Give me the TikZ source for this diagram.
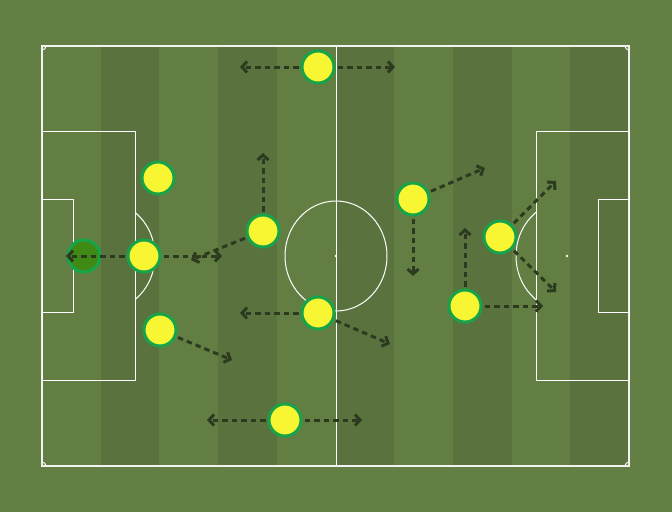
\documentclass[tikz,border=0pt]{standalone}
\usetikzlibrary{arrows.meta,shadows}
\definecolor{outside}{HTML}{647F43}
\definecolor{lightstripe}{HTML}{637E42}
\definecolor{darkstripe}{HTML}{5A733E}
\definecolor{ringgreen}{HTML}{17A34A}
\definecolor{shirt}{HTML}{F8F532}
\definecolor{keeper}{HTML}{3E8A14}
\definecolor{arrowc}{HTML}{2C3B20}
\tikzset{
  pitchline/.style={draw=white, line width=1pt},
  player/.style={circle, draw=ringgreen, line width=3pt, fill=shirt, minimum size=32pt, inner sep=0pt,
    drop shadow={shadow xshift=0.6pt, shadow yshift=-1.2pt, opacity=0.25}},
  gk/.style={player, fill=keeper},
  run/.style={draw=arrowc, line width=3pt, dash pattern=on 5.5pt off 4pt, shorten <=2pt,
    -{Straight Barb[length=5pt,width=11pt]}},
}
\begin{document}
\begin{tikzpicture}[x=1pt,y=-1pt]
\useasboundingbox (0,0) rectangle (672,512);
\fill[outside] (0,0) rectangle (672,512);
% stripes
\foreach \i in {0,...,9}{
  \pgfmathsetmacro{\xa}{42+58.7*\i}
  \pgfmathsetmacro{\xb}{42+58.7*(\i+1)}
  \pgfmathtruncatemacro{\odd}{mod(\i,2)}
  \ifnum\odd=1
    \fill[darkstripe] (\xa,46) rectangle (\xb,466);
  \else
    \fill[lightstripe] (\xa,46) rectangle (\xb,466);
  \fi
}
% lines
\draw[pitchline, draw=white!90!gray, line width=1.3pt] (42,46) rectangle (629,466);
\draw[pitchline] (336,46) -- (336,466);
\draw[pitchline] (336,256) ellipse [x radius=51pt, y radius=55pt];
\fill[white] (336,256) circle (1.3pt);
\draw[pitchline] (42,131) rectangle (135,380);
\draw[pitchline] (42,199) rectangle (73,312);
\draw[pitchline] (629,131) rectangle (536,380);
\draw[pitchline] (629,199) rectangle (598,312);
\fill[white] (104,256) circle (1.3pt);
\fill[white] (567,256) circle (1.3pt);
\begin{scope}
  \clip (135,46) rectangle (300,466);
  \draw[pitchline] (104,256) ellipse [x radius=51pt, y radius=55pt];
\end{scope}
\begin{scope}
  \clip (380,46) rectangle (536,466);
  \draw[pitchline] (567,256) ellipse [x radius=51pt, y radius=55pt];
\end{scope}
\begin{scope}
  \clip (42,46) rectangle (629,466);
  \foreach \c in {(42,46),(629,46),(42,466),(629,466)}
    \draw[pitchline] \c circle (4pt);
\end{scope}
% players
\node[gk] (gk) at (84,256) {};
\node[player] (p2) at (144,256) {};
\node[player] (p3) at (158,178) {};
\node[player] (p4) at (160,330) {};
\node[player] (p5) at (263,231) {};
\node[player] (p6) at (318,67) {};
\node[player] (p7) at (318,313) {};
\node[player] (p8) at (285,420) {};
\node[player] (p9) at (413,199) {};
\node[player] (p10) at (500,237) {};
\node[player] (p11) at (465,306) {};
% run targets
\coordinate (a6l) at (240,67);
\coordinate (a6r) at (395,67);
\coordinate (a8l) at (207,420);
\coordinate (a8r) at (362,420);
\coordinate (a2l) at (66,256);
\coordinate (a2r) at (222,256);
\coordinate (a5u) at (263,153);
\coordinate (a5d) at (191,260);
\coordinate (a4) at (232,360);
\coordinate (a7l) at (240,313);
\coordinate (a7r) at (390,344);
\coordinate (a9u) at (485,168);
\coordinate (a9d) at (413,276);
\coordinate (a10u) at (556,181);
\coordinate (a10d) at (556,292);
\coordinate (a11u) at (465,228);
\coordinate (a11r) at (543,306);
% runs
\draw[run] (p6) -- (a6l);
\draw[run] (p6) -- (a6r);
\draw[run] (p8) -- (a8l);
\draw[run] (p8) -- (a8r);
\draw[run] (p2) -- (a2l);
\draw[run] (p2) -- (a2r);
\draw[run] (p5) -- (a5u);
\draw[run] (p5) -- (a5d);
\draw[run] (p4) -- (a4);
\draw[run] (p7) -- (a7l);
\draw[run] (p7) -- (a7r);
\draw[run] (p9) -- (a9u);
\draw[run] (p9) -- (a9d);
\draw[run] (p10) -- (a10u);
\draw[run] (p10) -- (a10d);
\draw[run] (p11) -- (a11u);
\draw[run] (p11) -- (a11r);
\end{tikzpicture}
\end{document}
